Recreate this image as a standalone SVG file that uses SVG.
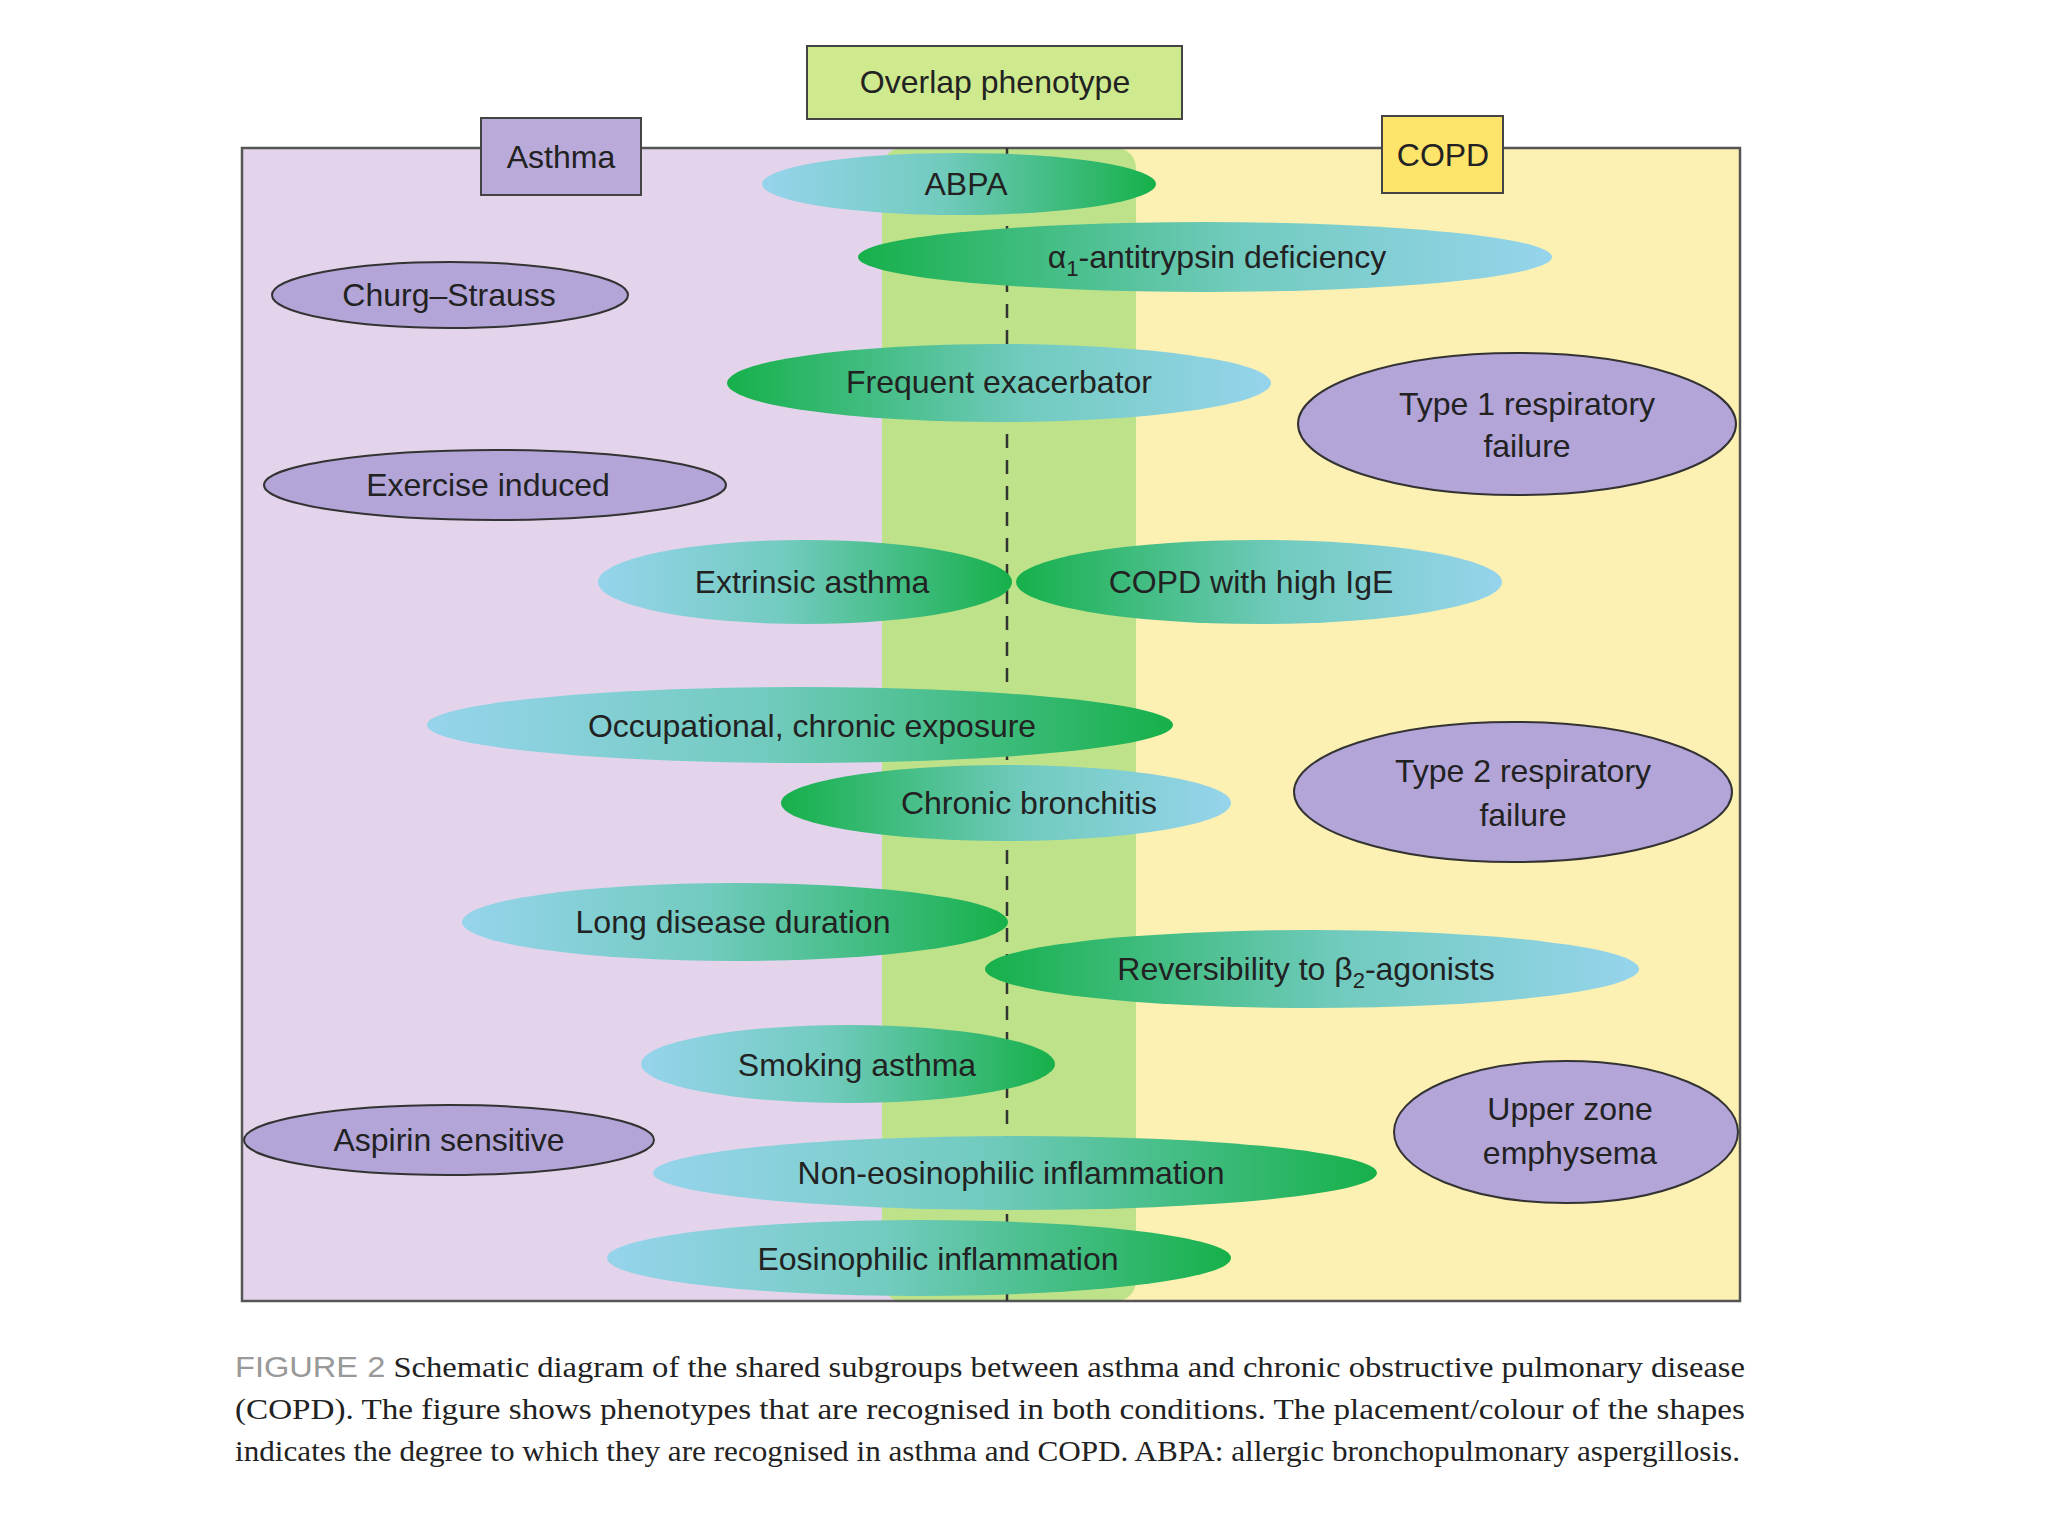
<svg xmlns="http://www.w3.org/2000/svg" width="2048" height="1536" viewBox="0 0 2048 1536">
<defs>
<linearGradient id="bg" x1="0" y1="0" x2="1" y2="0"><stop offset="0" stop-color="#96d4ec"/><stop offset="0.45" stop-color="#72cbbf"/><stop offset="1" stop-color="#16b04a"/></linearGradient>
<linearGradient id="gb" x1="0" y1="0" x2="1" y2="0"><stop offset="0" stop-color="#16b04a"/><stop offset="0.55" stop-color="#72cbbf"/><stop offset="1" stop-color="#96d4ec"/></linearGradient>
</defs>
<style>
text{font-family:"Liberation Sans Narrow","Liberation Sans",Arial,sans-serif;font-size:32px;fill:#222;text-anchor:middle}
.p{fill:#b3a5d8;stroke:#333;stroke-width:2}
.bg{fill:url(#bg)}
.gb{fill:url(#gb)}
.cap{font-family:"Liberation Serif",serif;font-size:30px;text-anchor:start}
</style>
<rect width="2048" height="1536" fill="#fff"/>
<g id="regions">
<rect x="242" y="148" width="765" height="1153" fill="#e3d4eb"/>
<rect x="1007" y="148" width="733" height="1153" fill="#fcf1b2"/>
<rect x="882" y="148" width="254" height="1153" rx="20" fill="#bde28a"/>
<rect x="242" y="148" width="1498" height="1153" fill="none" stroke="#555" stroke-width="2.5"/>
</g>
<g id="connectors">
<line x1="1007" y1="148" x2="1007" y2="1301" stroke="#333" stroke-width="2.5" stroke-dasharray="14 12"/>
</g>
<g id="overlap"><rect x="807" y="46" width="375" height="73" fill="#cfe98e" stroke="#444" stroke-width="2"/><text x="995" y="93">Overlap phenotype</text></g>
<g id="asthma"><rect x="481" y="118" width="160" height="77" fill="#b9aad9" stroke="#444" stroke-width="2"/><text x="561" y="168">Asthma</text></g>
<g id="copd"><rect x="1382" y="116" width="121" height="77" fill="#fde46a" stroke="#444" stroke-width="2"/><text x="1443" y="166">COPD</text></g>
<g id="abpa"><ellipse class="bg" cx="959" cy="184" rx="197" ry="31"/><text x="966" y="195">ABPA</text></g>
<g id="a1at"><ellipse class="gb" cx="1205" cy="257" rx="347" ry="35"/><text x="1217" y="268">α<tspan font-size="22" dy="8">1</tspan><tspan dy="-8">-antitrypsin deficiency</tspan></text></g>
<g id="churg"><ellipse class="p" cx="450" cy="295" rx="178" ry="33"/><text x="449" y="306">Churg–Strauss</text></g>
<g id="freq"><ellipse class="gb" cx="999" cy="383" rx="272" ry="39"/><text x="999" y="393">Frequent exacerbator</text></g>
<g id="type1"><ellipse class="p" cx="1517" cy="424" rx="219" ry="71"/><text x="1527" y="415">Type 1 respiratory</text><text x="1527" y="457">failure</text></g>
<g id="exercise"><ellipse class="p" cx="495" cy="485" rx="231" ry="35"/><text x="488" y="496">Exercise induced</text></g>
<g id="extrinsic"><ellipse class="bg" cx="805" cy="582" rx="207" ry="42"/><text x="812" y="593">Extrinsic asthma</text></g>
<g id="copdige"><ellipse class="gb" cx="1259" cy="582" rx="243" ry="42"/><text x="1251" y="593">COPD with high IgE</text></g>
<g id="occup"><ellipse class="bg" cx="800" cy="725" rx="373" ry="38"/><text x="812" y="737">Occupational, chronic exposure</text></g>
<g id="chronic"><ellipse class="gb" cx="1006" cy="803" rx="225" ry="38"/><text x="1029" y="814">Chronic bronchitis</text></g>
<g id="type2"><ellipse class="p" cx="1513" cy="792" rx="219" ry="70"/><text x="1523" y="782">Type 2 respiratory</text><text x="1523" y="826">failure</text></g>
<g id="long"><ellipse class="bg" cx="735" cy="922" rx="273" ry="39"/><text x="733" y="933">Long disease duration</text></g>
<g id="revers"><ellipse class="gb" cx="1312" cy="969" rx="327" ry="39"/><text x="1306" y="980">Reversibility to β<tspan font-size="22" dy="8">2</tspan><tspan dy="-8">-agonists</tspan></text></g>
<g id="smoking"><ellipse class="bg" cx="848" cy="1064" rx="207" ry="39"/><text x="857" y="1076">Smoking asthma</text></g>
<g id="upper"><ellipse class="p" cx="1566" cy="1132" rx="172" ry="71"/><text x="1570" y="1120">Upper zone</text><text x="1570" y="1164">emphysema</text></g>
<g id="aspirin"><ellipse class="p" cx="449" cy="1140" rx="205" ry="35"/><text x="449" y="1151">Aspirin sensitive</text></g>
<g id="noneos"><ellipse class="bg" cx="1015" cy="1173" rx="362" ry="37"/><text x="1011" y="1184">Non-eosinophilic inflammation</text></g>
<g id="eos"><ellipse class="bg" cx="919" cy="1258" rx="312" ry="38"/><text x="938" y="1270">Eosinophilic inflammation</text></g>
<g id="caption">
<text class="cap" x="235" y="1377" textLength="1510" lengthAdjust="spacingAndGlyphs"><tspan fill="#999" font-family="Liberation Sans Narrow,Liberation Sans,sans-serif">FIGURE 2</tspan> Schematic diagram of the shared subgroups between asthma and chronic obstructive pulmonary disease</text>
<text class="cap" x="235" y="1419" textLength="1510" lengthAdjust="spacingAndGlyphs">(COPD). The figure shows phenotypes that are recognised in both conditions. The placement/colour of the shapes</text>
<text class="cap" x="235" y="1461" textLength="1505" lengthAdjust="spacingAndGlyphs">indicates the degree to which they are recognised in asthma and COPD. ABPA: allergic bronchopulmonary aspergillosis.</text>
</g>
</svg>
